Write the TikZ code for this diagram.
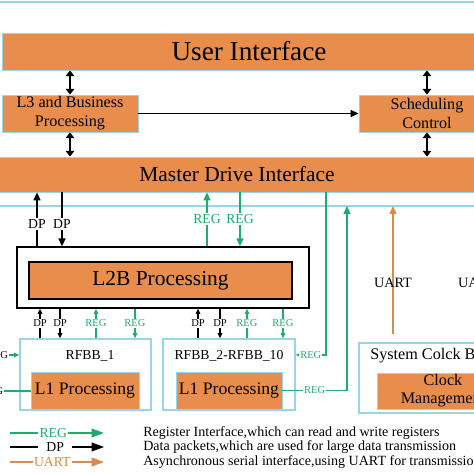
\documentclass[tikz,border=0pt]{standalone}
\usepackage{fontspec}
\setmainfont{Liberation Serif}
\usetikzlibrary{arrows.meta}

\definecolor{blockorange}{RGB}{233,141,76}
\definecolor{edgeblue}{RGB}{150,214,232}
\definecolor{regreen}{RGB}{32,172,108}
\definecolor{uartorange}{RGB}{218,138,78}

\tikzset{
  boxsize/.style 2 args={minimum width=#1*0.02cm, minimum height=#2*0.02cm},
  block/.style={draw=edgeblue, fill=blockorange, inner sep=0pt, line width=0.5pt, align=center},
  frame/.style={draw=edgeblue, fill=white, inner sep=0pt, line width=0.7pt},
  rail/.style={draw=edgeblue, line width=0.7pt},
  dpline/.style={black, line width=0.7pt},
  regline/.style={regreen, line width=0.7pt},
  uartline/.style={uartorange, line width=0.7pt},
  bus/.style={black, line width=1.1pt, {Triangle[length=3.2pt,width=4.8pt]}-{Triangle[length=3.2pt,width=4.8pt]}},
  tag/.style={fill=white, inner sep=0.8pt, font=\rmfamily\fontsize{7.8}{9}\selectfont},
  smalltag/.style={fill=white, inner sep=0.5pt, font=\rmfamily\fontsize{6}{7}\selectfont},
  keytag/.style={fill=white, inner ysep=0pt, inner xsep=0.6pt, font=\rmfamily\fontsize{7.8}{9}\selectfont},
  note/.style={anchor=west, inner sep=0pt, font=\rmfamily\fontsize{8}{9}\selectfont},
  big/.style={font=\rmfamily\fontsize{15.5}{18}\selectfont},
  mid/.style={font=\rmfamily\fontsize{12.2}{14}\selectfont},
  small/.style={font=\rmfamily\fontsize{9.2}{10.8}\selectfont},
}

\begin{document}
\begin{tikzpicture}[x=0.02cm, y=-0.02cm, >={Triangle[length=4.5pt,width=4pt]}]
\useasboundingbox (0,0) rectangle (474,474);
\clip (0,0) rectangle (474,474);

% top rails
\draw[rail] (0,2) -- (474,2);

% upper blocks
\node[block, big, boxsize={494}{37}] (ui) at (249,51.5) {User Interface};
\node[block, small, boxsize={136}{37}] (l3) at (70,113.5) {L3 and Business\\Processing};
\node[block, small, boxsize={136}{37}] (sched) at (427,113.5) {Scheduling\\Control};
\node[block, mid, boxsize={478}{35}] (master) at (237,174.5) {Master Drive Interface};

\draw[bus] (l3.north) -- (l3.north |- ui.south);
\draw[bus] (l3.south) -- (l3.south |- master.north);
\draw[bus] (sched.north) -- (sched.north |- ui.south);
\draw[bus] (sched.south) -- (sched.south |- master.north);
\draw[dpline, ->] (l3) -- (sched);

\coordinate (railL) at (0,206);
\coordinate (railR) at (474,206);
\draw[rail] (railL) -- (railR);

% L2B
\node[draw=black, fill=white, line width=0.8pt, inner sep=0pt, boxsize={292}{61}] (l2bout) at (163,277.5) {};
\node[block, mid, draw=black, line width=0.7pt, boxsize={263}{37}] (l2b) at (160.5,280.5) {L2B Processing};

\draw[dpline, ->] (37,0 |- l2bout.north) -- node[tag, yshift=-5*0.02cm]{DP} (37,0 |- master.south);
\draw[dpline, ->] (62,0 |- master.south) -- node[tag, yshift=-5*0.02cm]{DP} (62,0 |- l2bout.north);
\draw[regline, ->] (207,0 |- l2bout.north) -- node[tag]{REG} (207,0 |- master.south);
\draw[regline, ->] (240,0 |- master.south) -- node[tag]{REG} (240,0 |- l2bout.north);

% RFBB blocks
\node[frame, boxsize={131}{71}] (rfbb1) at (85.5,374.5) {};
\node[inner sep=0pt, font=\rmfamily\fontsize{7.8}{9}\selectfont] (rfbb1t) at (90,356) {RFBB\_1};
\node[block, font=\rmfamily\fontsize{10}{12}\selectfont, boxsize={108}{37}] (l1a) at (85,390.5) {L1 Processing};

\node[frame, boxsize={132}{71}] (rfbb2) at (229,374.5) {};
\node[inner sep=0pt, font=\rmfamily\fontsize{7.8}{9}\selectfont] (rfbb2t) at (229,356) {RFBB\_2-RFBB\_10};
\node[block, font=\rmfamily\fontsize{10}{12}\selectfont, boxsize={106}{37}] (l1b) at (229,390.5) {L1 Processing};

\foreach \xa/\xb/\xc/\xd in {40/60/96/135, 198/220/247/283} {
  \draw[dpline, -{Triangle[length=3pt,width=2.6pt]}] (\xa,0 |- rfbb1.north) -- node[smalltag]{DP} (\xa,0 |- l2bout.south);
  \draw[dpline, -{Triangle[length=3pt,width=2.6pt]}] (\xb,0 |- l2bout.south) -- node[smalltag]{DP} (\xb,0 |- rfbb1.north);
  \draw[regline, -{Triangle[length=3pt,width=2.6pt]}] (\xc,0 |- rfbb1.north) -- node[smalltag]{REG} (\xc,0 |- l2bout.south);
  \draw[regline, -{Triangle[length=3pt,width=2.6pt]}] (\xd,0 |- l2bout.south) -- node[smalltag]{REG} (\xd,0 |- rfbb1.north);
}

% side register links
\node[smalltag] (regin) at (-2.5,355) {REG};
\draw[regline, -{Triangle[length=3pt,width=2.6pt]}] (regin) -- (regin -| rfbb1.west);
\node[smalltag] (regout) at (-7.5,391) {REG};
\draw[regline] (regout) -- (regout -| l1a.west);

\draw[regline, -{Triangle[length=3pt,width=2.6pt]}] (326,0 |- master.south) |- node[smalltag, pos=0.75]{REG} (rfbb2.east |- 0,355);
\draw[regline, ->] (l1b.east) -| node[smalltag, pos=0.25]{REG} (347,0 |- railL);

% clock block
\node[frame, boxsize={168}{70}] (sys) at (443,378) {};
\node[anchor=west, inner sep=0pt, small] (syst) at (370,356) {System Colck Block};
\node[block, font=\rmfamily\fontsize{9.2}{10.3}\selectfont, boxsize={132}{36}] (clk) at (443,391) {Clock\\Management};

\draw[uartline, ->, shorten <=4.5pt] (393,0 |- sys.north) -- node[pos=0.44, inner sep=0pt, text=black, font=\rmfamily\fontsize{8.1}{9}\selectfont]{UART} (393,0 |- railL);
\node[inner sep=0pt, font=\rmfamily\fontsize{8.1}{9}\selectfont] (uart2) at (477,283) {UART};

% legend
\coordinate (k1a) at (10,433); \coordinate (k1b) at (104,433);
\coordinate (k2a) at (10,447); \coordinate (k2b) at (104,447);
\coordinate (k3a) at (10,462); \coordinate (k3b) at (104,462);
\draw[regline, -{Triangle[length=7pt,width=5pt]}] (k1a) -- node[keytag, pos=0.46]{REG} (k1b);
\draw[dpline, -{Triangle[length=7pt,width=5pt]}] (k2a) -- node[keytag, pos=0.48, inner xsep=4.5pt]{DP} (k2b);
\draw[uartline, -{Triangle[length=7pt,width=5pt]}] (k3a) -- node[keytag, pos=0.45]{UART} (k3b);
\node[note] (n1) at (143,433) {Register Interface,which can read and write registers};
\node[note] (n2) at (143,447) {Data packets,which are used for large data transmission};
\node[note] (n3) at (143,462) {Asynchronous serial interface,using UART for transmission};
\end{tikzpicture}
\end{document}
